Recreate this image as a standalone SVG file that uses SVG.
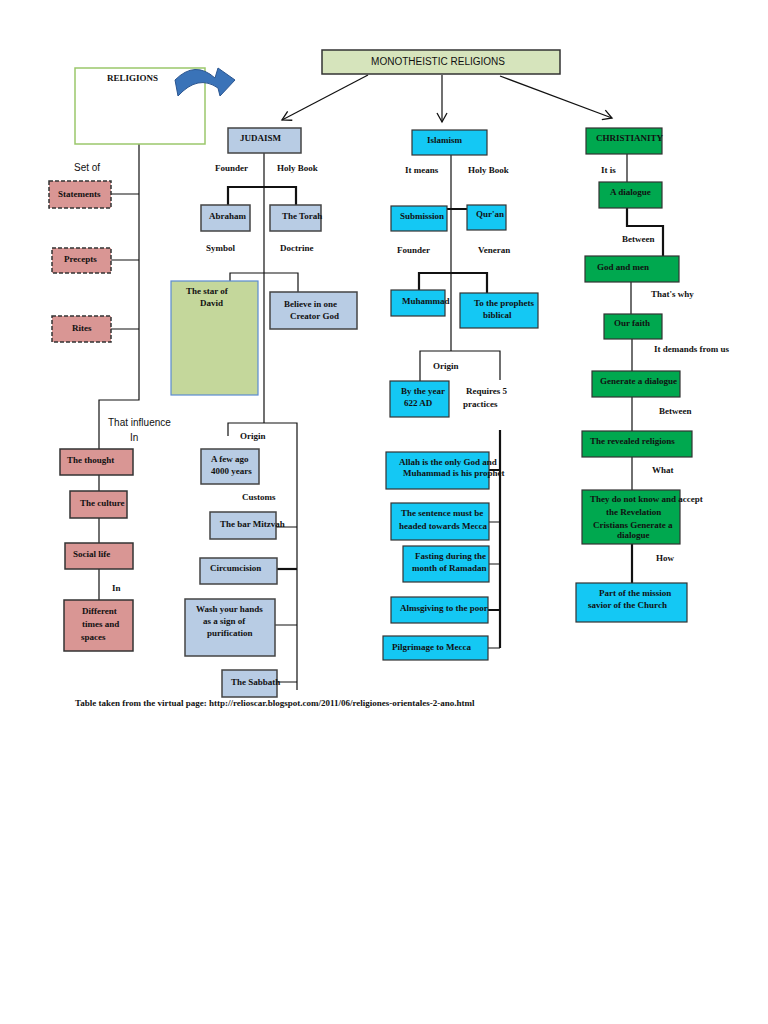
<svg xmlns="http://www.w3.org/2000/svg" width="768" height="1024" viewBox="0 0 768 1024">
<style>
.t{font-family:"Liberation Serif",serif;font-weight:bold;font-size:9px;fill:#111}
.s{font-family:"Liberation Sans",sans-serif;font-size:10px;fill:#111}
.b{fill:#b8cce4;stroke:#444;stroke-width:1.5}
.c{fill:#14c8f4;stroke:#333;stroke-width:1.2}
.g{fill:#00a84f;stroke:#333;stroke-width:1.2}
.r{fill:#d99694;stroke:#333;stroke-width:1.5}
.rd{fill:#d99694;stroke:#333;stroke-width:1.5;stroke-dasharray:4 2}
.l{stroke:#111;stroke-width:1.2;fill:none}
.k{stroke:#111;stroke-width:2.2;fill:none}
</style>
<defs><marker id="a" markerWidth="12" markerHeight="12" refX="10" refY="6" orient="auto" markerUnits="userSpaceOnUse"><path d="M1,1 L10,6 L1,11" fill="none" stroke="#111" stroke-width="1.3"/></marker></defs>
<rect width="768" height="1024" fill="#fff"/>
<g id="connectors">
<line class="l" x1="368" y1="75" x2="282" y2="120" marker-end="url(#a)"/>
<line class="l" x1="442" y1="75" x2="442" y2="122" marker-end="url(#a)"/>
<line class="l" x1="500" y1="76" x2="612" y2="118" marker-end="url(#a)"/>
<path class="l" d="M139,144 V400 H99 V600"/>
<path class="l" d="M111,194 H139 M111,260 H139 M111,329 H139"/>
<path class="l" d="M264,153 V423"/>
<path class="k" d="M228,205 V187 H296 V205"/>
<path class="l" d="M230,281 V273 H298 V292"/>
<path class="l" d="M228,436 V423 H297 V690"/>
<path class="l" d="M276,527 H297 M277,569 H297 M275,625 H297 M277,682 H297"/>
<path class="k" d="M277,569 H297"/>
<path class="l" d="M451,155 V351"/>
<path class="k" d="M419,206 V209 H487 V205"/>
<path class="k" d="M419,290 V273 H487 V293"/>
<path class="l" d="M420,381 V351 H500 V380"/>
<path class="k" d="M500,430 V648"/>
<path class="l" d="M489,470 H500 M489,522 H500 M489,564 H500 M488,610 H500 M488,648 H500"/>
<path class="k" d="M489,470 H500 M488,610 H500"/>
<path class="l" d="M627,154 V182"/>
<path class="k" d="M627,208 V226 H663 V256"/>
<path class="l" d="M631,282 V314 M632,339 V371 M632,397 V431 M632,457 V490"/>
<path class="k" d="M632,544 V583"/>
</g>
<g id="religions"><rect x="75" y="68" width="130" height="76" fill="#fff" stroke="#9bc76b" stroke-width="1.5"/><text class="t" x="107" y="81">RELIGIONS</text></g>
<g id="bigarrow"><path d="M175,80 Q195,60 215,78 L218,68 L235,80 L220,96 L218,88 Q198,74 178,96 Z" fill="#3a73b8" stroke="#2a5590" stroke-width="1"/></g>
<g id="mono"><rect x="322" y="50" width="238" height="24" fill="#d6e4bc" stroke="#333" stroke-width="1.5"/><text class="s" x="438" y="65" text-anchor="middle" font-size="9">MONOTHEISTIC RELIGIONS</text></g>
<text class="s" x="74" y="171">Set of</text>
<g id="statements"><rect class="rd" x="49" y="181" width="62" height="27"/><text class="t" x="58" y="197" font-size="8">Statements</text></g>
<g id="precepts"><rect class="rd" x="52" y="248" width="59" height="25"/><text class="t" x="64" y="262" font-size="8">Precepts</text></g>
<g id="rites"><rect class="rd" x="52" y="316" width="59" height="26"/><text class="t" x="72" y="331" font-size="8">Rites</text></g>
<text class="s" x="108" y="426">That influence</text><text class="s" x="130" y="441">In</text>
<g id="thought"><rect class="r" x="60" y="449" width="73" height="26"/><text class="t" x="67" y="463" font-size="8">The thought</text></g>
<g id="culture"><rect class="r" x="70" y="491" width="57" height="27"/><text class="t" x="80" y="506" font-size="8">The culture</text></g>
<g id="social"><rect class="r" x="65" y="543" width="68" height="26"/><text class="t" x="73" y="557" font-size="8">Social life</text></g>
<text class="t" x="112" y="591" font-size="8">In</text>
<g id="different"><rect class="r" x="64" y="600" width="69" height="51"/><text class="t" x="82" y="614" font-size="8">Different</text><text class="t" x="82" y="627" font-size="8">times and</text><text class="t" x="81" y="640" font-size="8">spaces</text></g>
<g id="judaism"><rect class="b" x="228" y="128" width="73" height="25"/><text class="t" x="240" y="141" font-size="8">JUDAISM</text></g>
<text class="t" x="215" y="171" font-size="8">Founder</text><text class="t" x="277" y="171" font-size="8">Holy Book</text>
<g id="abraham"><rect class="b" x="201" y="205" width="49" height="26"/><text class="t" x="209" y="219" font-size="8">Abraham</text></g>
<g id="torah"><rect class="b" x="270" y="205" width="51" height="26"/><text class="t" x="282" y="219" font-size="8">The Torah</text></g>
<text class="t" x="206" y="251" font-size="8">Symbol</text><text class="t" x="280" y="251" font-size="8">Doctrine</text>
<g id="star"><rect x="171" y="281" width="87" height="114" fill="#c4d79b" stroke="#5b8bd0" stroke-width="1.2"/><text class="t" x="186" y="294" font-size="10">The star of</text><text class="t" x="200" y="306" font-size="10">David</text></g>
<g id="believe"><rect class="b" x="270" y="292" width="87" height="37"/><text class="t" x="284" y="307" font-size="8">Believe in one</text><text class="t" x="290" y="319" font-size="8">Creator God</text></g>
<text class="t" x="240" y="439" font-size="8">Origin</text>
<g id="fewago"><rect class="b" x="201" y="449" width="58" height="35"/><text class="t" x="211" y="462" font-size="8">A few ago</text><text class="t" x="211" y="474" font-size="8">4000 years</text></g>
<text class="t" x="242" y="500" font-size="8">Customs</text>
<g id="mitzvah"><rect class="b" x="210" y="512" width="66" height="27"/><text class="t" x="220" y="527" font-size="8">The bar Mitzvah</text></g>
<g id="circ"><rect class="b" x="200" y="558" width="77" height="26"/><text class="t" x="210" y="571" font-size="8">Circumcision</text></g>
<g id="wash"><rect class="b" x="185" y="599" width="90" height="57"/><text class="t" x="196" y="612" font-size="8">Wash your hands</text><text class="t" x="203" y="624" font-size="8">as a sign of</text><text class="t" x="207" y="636" font-size="8">purification</text></g>
<g id="sabbath"><rect class="b" x="222" y="670" width="55" height="27"/><text class="t" x="231" y="685" font-size="8">The Sabbath</text></g>
<text class="t" x="75" y="706" font-size="6">Table taken from the virtual page: http://relioscar.blogspot.com/2011/06/religiones-orientales-2-ano.html</text>
<g id="islamism"><rect class="c" x="412" y="130" width="75" height="25"/><text class="t" x="427" y="143" font-size="8">Islamism</text></g>
<text class="t" x="405" y="173" font-size="8">It means</text><text class="t" x="468" y="173" font-size="8">Holy Book</text>
<g id="submission"><rect class="c" x="391" y="206" width="56" height="25"/><text class="t" x="400" y="219" font-size="8">Submission</text></g>
<g id="quran"><rect class="c" x="467" y="205" width="39" height="25"/><text class="t" x="476" y="217" font-size="8">Qur'an</text></g>
<text class="t" x="397" y="253" font-size="8">Founder</text><text class="t" x="478" y="253" font-size="8">Veneran</text>
<g id="muhammad"><rect class="c" x="391" y="290" width="54" height="26"/><text class="t" x="402" y="304" font-size="8">Muhammad</text></g>
<g id="prophets"><rect class="c" x="460" y="293" width="78" height="35"/><text class="t" x="474" y="306" font-size="8">To the prophets</text><text class="t" x="483" y="318" font-size="8">biblical</text></g>
<text class="t" x="433" y="369" font-size="8">Origin</text>
<g id="year"><rect class="c" x="390" y="381" width="59" height="36"/><text class="t" x="401" y="394" font-size="8">By the year</text><text class="t" x="404" y="406" font-size="8">622 AD</text></g>
<text class="t" x="466" y="394" font-size="6">Requires 5</text><text class="t" x="463" y="407" font-size="8">practices</text>
<g id="allah"><rect class="c" x="386" y="452" width="103" height="37"/><text class="t" x="399" y="465" font-size="6.5">Allah is the only God and</text><text class="t" x="403" y="476" font-size="5.5">Muhammad is his prophet</text></g>
<g id="sentence"><rect class="c" x="391" y="503" width="98" height="37"/><text class="t" x="401" y="516" font-size="8">The sentence must be</text><text class="t" x="399" y="529" font-size="8">headed towards Mecca</text></g>
<g id="fasting"><rect class="c" x="403" y="546" width="86" height="36"/><text class="t" x="415" y="559" font-size="8">Fasting during the</text><text class="t" x="412" y="571" font-size="8">month of Ramadan</text></g>
<g id="alms"><rect class="c" x="391" y="597" width="97" height="26"/><text class="t" x="400" y="611" font-size="8">Almsgiving to the poor</text></g>
<g id="pilgrim"><rect class="c" x="383" y="636" width="105" height="24"/><text class="t" x="392" y="650" font-size="8">Pilgrimage to Mecca</text></g>
<g id="christianity"><rect class="g" x="586" y="128" width="76" height="26"/><text class="t" x="596" y="141" font-size="8">CHRISTIANITY</text></g>
<text class="t" x="601" y="173" font-size="8">It is</text>
<g id="dialogue"><rect class="g" x="599" y="182" width="63" height="26"/><text class="t" x="610" y="195" font-size="8">A dialogue</text></g>
<text class="t" x="622" y="242" font-size="8">Between</text>
<g id="godmen"><rect class="g" x="585" y="256" width="94" height="26"/><text class="t" x="597" y="270" font-size="8">God and men</text></g>
<text class="t" x="651" y="297" font-size="7">That's why</text>
<g id="faith"><rect class="g" x="604" y="314" width="58" height="25"/><text class="t" x="614" y="326" font-size="8">Our faith</text></g>
<text class="t" x="654" y="352" font-size="4.5">It demands from us</text>
<g id="generate"><rect class="g" x="592" y="371" width="88" height="26"/><text class="t" x="600" y="384" font-size="8">Generate a dialogue</text></g>
<text class="t" x="659" y="414" font-size="8">Between</text>
<g id="revealed"><rect class="g" x="582" y="431" width="110" height="26"/><text class="t" x="590" y="444" font-size="8">The revealed religions</text></g>
<text class="t" x="652" y="473" font-size="8">What</text>
<g id="theydo"><rect class="g" x="582" y="490" width="98" height="54"/><text class="t" x="590" y="502" font-size="5.5">They do not know and accept</text><text class="t" x="606" y="515" font-size="8">the Revelation</text><text class="t" x="593" y="528" font-size="8">Cristians Generate a</text><text class="t" x="617" y="538" font-size="5" fill="#cfe">dialogue</text></g>
<text class="t" x="656" y="561" font-size="8">How</text>
<g id="mission"><rect class="c" x="576" y="583" width="111" height="39"/><text class="t" x="599" y="596" font-size="8">Part of the mission</text><text class="t" x="588" y="608" font-size="8">savior of the Church</text></g>
</svg>
